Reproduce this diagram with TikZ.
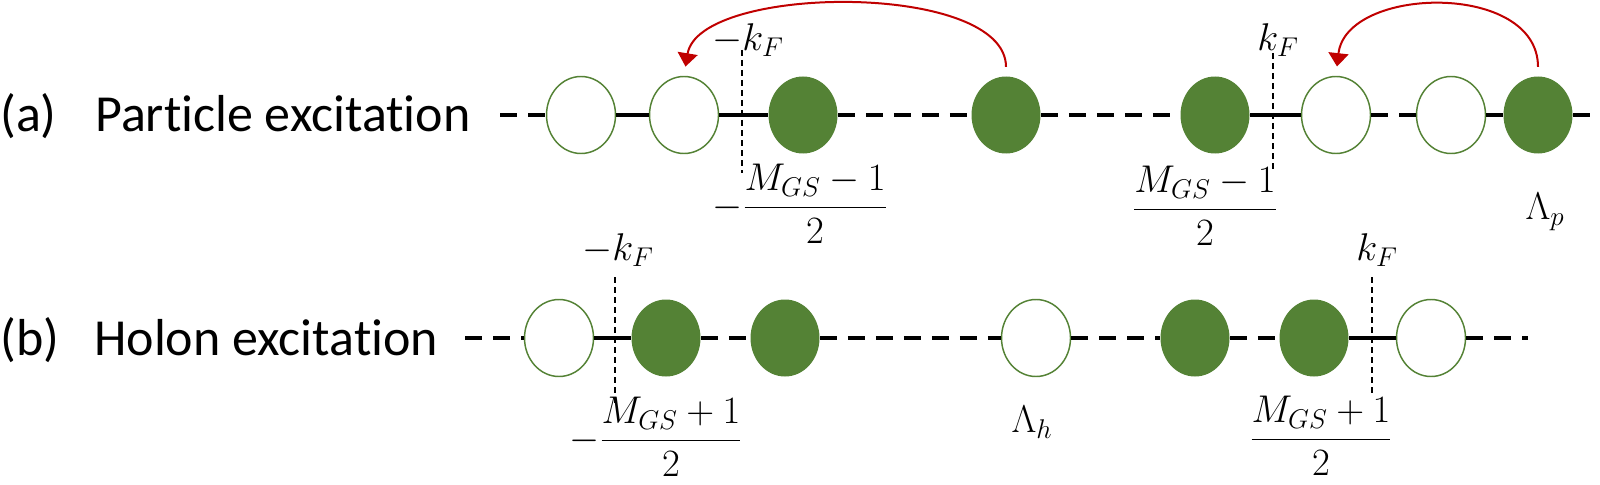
\RequirePackage{fix-cm}
\documentclass[tikz,border=0pt]{standalone}
\usepackage{amsmath}
\usepackage{fontspec}
\setmainfont{Carlito}[Ligatures=NoCommon]
\usepackage{tikz}
\usetikzlibrary{shapes.geometric}
\usetikzlibrary{arrows.meta}

\definecolor{siteGreen}{RGB}{84,130,53}
\definecolor{hopRed}{RGB}{192,0,0}

\tikzset{
  site/.style={ellipse,inner sep=0pt,minimum width=51.75pt,minimum height=57.75pt},
  empty/.style={site,draw=siteGreen,line width=1.1pt,fill=white},
  full/.style={site,fill=siteGreen},
  bond/.style={line width=3pt},
  gap/.style={line width=3pt,dash pattern=on 12.75pt off 8.25pt},
  fermi/.style={line width=1.1pt,dash pattern=on 4.5pt off 3pt},
  hop/.style={hopRed,line width=1.5pt,-{Triangle[width=15pt,length=10pt]},shorten <=7pt,shorten >=7pt},
  title/.style={font=\fontsize{39}{44}\selectfont,inner sep=0pt},
  mlabel/.style={font=\fontsize{29}{34}\selectfont,inner sep=0pt}
}

\begin{document}
\begin{tikzpicture}[x=0.75pt,y=0.75pt,yscale=-1,xscale=1]
\useasboundingbox (0,0) rectangle (1600,485);

% Row (a): particle excitation
\node[title,anchor=base west] (labA) at (0,132) {(a)};
\node[title,anchor=base west] (txtA) at (95,132) {Particle excitation};

% Fermi points (a)
\coordinate (fA1t) at (742,50);
\coordinate (fA1b) at (742,173);
\coordinate (fA2t) at (1273,53);
\coordinate (fA2b) at (1273,173);
\draw[fermi] (fA1t) -- (fA1b);
\draw[fermi] (fA2t) -- (fA2b);

% Chain ends (a)
\coordinate (a0) at (500,115);
\coordinate (a9) at (1598,115);

% Sites (a)
\node[empty] (a1) at (581,115) {};
\node[empty] (a2) at (684,115) {};
\node[full]  (a3) at (803,115) {};
\node[full]  (a4) at (1006,115) {};
\node[full]  (a5) at (1215,115) {};
\node[empty] (a6) at (1336,115) {};
\node[empty] (a7) at (1451,115) {};
\node[full]  (a8) at (1538,115) {};

% Bonds (a)
\draw[gap]  (a0) -- (a1);
\draw[bond] (a1) -- (a2);
\draw[bond] (a2) -- (a3);
\draw[gap]  (a3) -- (a4);
\draw[gap]  (a4) -- (a5);
\draw[bond] (a5) -- (a6);
\draw[gap]  (a6) -- (a7);
\draw[gap]  (a7) -- (a8);
\draw[gap]  (a8) -- (a9);

% Hops (a)
\draw[hop] (a4.north) .. controls +(0,-95) and +(15,-92) .. (a2.north);
\draw[hop] (a8.north) .. controls +(0,-95) and +(10,-90) .. (a6.north);

% Labels (a)
\node[mlabel] (kA1) at (748,40) {$-k_F$};
\node[mlabel] (kA2) at (1278,40) {$k_F$};
\node[mlabel] (mA1) at (800,204) {$-\dfrac{M_{GS}-1}{2}$};
\node[mlabel] (mA2) at (1205,206) {$\dfrac{M_{GS}-1}{2}$};
\node[mlabel] (lamP) at (1545,212) {$\Lambda_p$};

% Row (b): holon excitation
\node[title,anchor=base west] (labB) at (0,355) {(b)};
\node[title,anchor=base west] (txtB) at (94,355) {Holon excitation};

% Fermi points (b)
\coordinate (fB1t) at (615,277);
\coordinate (fB1b) at (615,403);
\coordinate (fB2t) at (1372,277);
\coordinate (fB2b) at (1372,397);
\draw[fermi] (fB1t) -- (fB1b);
\draw[fermi] (fB2t) -- (fB2b);

% Chain ends (b)
\coordinate (b0) at (465,338);
\coordinate (b8) at (1528,338);

% Sites (b)
\node[empty] (b1) at (559,338) {};
\node[full]  (b2) at (666,338) {};
\node[full]  (b3) at (785,338) {};
\node[empty] (b4) at (1036,338) {};
\node[full]  (b5) at (1195,338) {};
\node[full]  (b6) at (1314,338) {};
\node[empty] (b7) at (1431,338) {};

% Bonds (b)
\draw[gap]  (b0) -- (b1);
\draw[bond] (b1) -- (b2);
\draw[gap]  (b2) -- (b3);
\draw[gap]  (b3) -- (b4);
\draw[gap]  (b4) -- (b5);
\draw[gap]  (b5) -- (b6);
\draw[bond] (b6) -- (b7);
\draw[gap]  (b7) -- (b8);

% Labels (b)
\node[mlabel] (kB1) at (618,250) {$-k_F$};
\node[mlabel] (kB2) at (1377,250) {$k_F$};
\node[mlabel] (mB1) at (656,437) {$-\dfrac{M_{GS}+1}{2}$};
\node[mlabel] (lamH) at (1032,422) {$\Lambda_h$};
\node[mlabel] (mB2) at (1321,436) {$\dfrac{M_{GS}+1}{2}$};

\end{tikzpicture}
\end{document}
